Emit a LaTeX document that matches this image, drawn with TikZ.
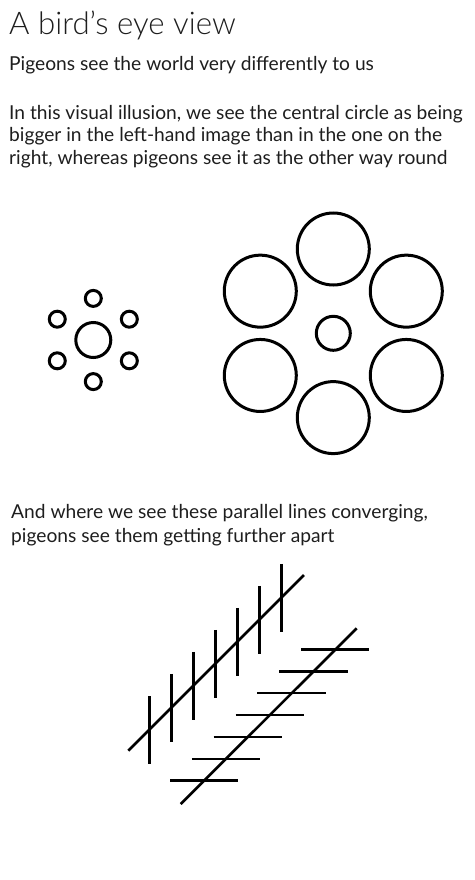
\documentclass[tikz,border=0pt]{standalone}
\usepackage{fontspec}
\setmainfont{Lato}
\newfontfamily\titlefont{Lato}[UprightFont={* Light}]
\usepackage{tikz}
\usetikzlibrary{positioning, calc}
\definecolor{ink}{HTML}{1E1E1E}

\begin{document}
\begin{tikzpicture}[x=1pt, y=-1pt,
    line/.style={anchor=base west, inner sep=0pt, color=ink, font=\fontsize{19.2}{22}\selectfont},
    ring/.style={line width=3pt, color=black},
    bar/.style={line width=2.6pt, color=black}]
    \useasboundingbox[fill=white] (0,0) rectangle (474,880);

    \node[anchor=base west, inner sep=0pt, color=ink, font=\titlefont\fontsize{31.2}{34}\selectfont] (title) at (9,35) {A bird’s eye view};
    \node[line] (sub) at (9,71) {Pigeons see the world very differently to us};
    \node[line] (pa) at (9,119.5) {In this visual illusion, we see the central circle as being};
    \node[line] (pb) at (9,142) {bigger in the left-hand image than in the one on the};
    \node[line] (pc) at (9,164.5) {right, whereas pigeons see it as the other way round};

    % small surround
    \draw[ring] (93.3,340) circle (17.5);
    \foreach \a in {30,90,...,330}
      \draw[ring] ($(93.3,340)+(\a:41.6)$) circle (8);

    % large surround
    \draw[ring] (333.3,333.3) circle (17);
    \foreach \a in {30,90,...,330}
      \draw[ring] ($(333.3,333.3)+(\a:84.3)$) circle (36);

    \node[line] (qa) at (11,518.5) {And where we see these parallel lines converging,};
    \node[line] (qb) at (11,542.5) {pigeons see them getting further apart};

    % vertical ticks
    \draw[bar] (128.3,750.7) -- (304,575);
    \foreach \i in {0,...,6}
      \draw[bar] (149.3+22.07*\i, 696-22.03*\i) -- ++(0,68.4);

    % horizontal ticks
    \draw[bar] (180.7,804) -- (356.7,628.3);
    \foreach \i in {0,...,6}
      \draw[bar] (301-21.83*\i, 649.3+21.9*\i) -- ++(68.4,0);
\end{tikzpicture}
\end{document}
